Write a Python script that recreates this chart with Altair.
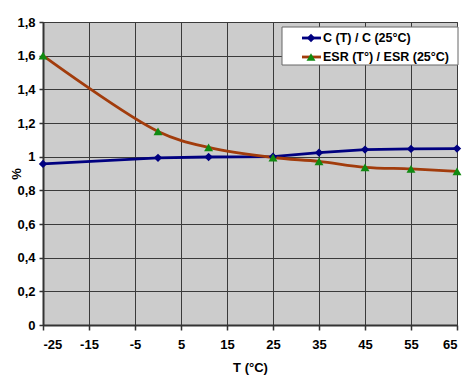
import altair as alt
import pandas as pd

temps = [-25, 0, 11, 25, 35, 45, 55, 65]
c_ratio = [0.957, 0.993, 0.998, 1.0, 1.024, 1.042, 1.046, 1.048]
esr_ratio = [1.6, 1.15, 1.055, 0.995, 0.972, 0.937, 0.927, 0.913]
x_ticks = [-25, -15, -5, 5, 15, 25, 35, 45, 55, 65]
y_ticks = [0, 0.2, 0.4, 0.6, 0.8, 1.0, 1.2, 1.4, 1.6, 1.8]
legend_labels = ["C (T) / C (25°C)", "ESR (T°) / ESR (25°C)"]

FONT = "Liberation Sans, Arial, sans-serif"
NAVY = "#000080"
BROWN = "#a23c0c"
GREEN = "#118a11"

df = pd.DataFrame({"T": temps, "C": c_ratio, "ESR": esr_ratio})

x = alt.X("T:Q", scale=alt.Scale(domain=[-25, 65], nice=False, zero=False),
          axis=alt.Axis(values=x_ticks, title="T (°C)", labelExpr="'' + datum.value",
                        labelPadding=8, tickSize=5, titleY=36, titleBaseline="top"))
y_enc = lambda f: alt.Y(f"{f}:Q", scale=alt.Scale(domain=[0, 1.8], nice=False),
                        axis=alt.Axis(values=y_ticks, title="%",
                                      labelExpr="replace(format(datum.value, '.1~f'), '.', ',')",
                                      tickSize=4, labelPadding=4, titleX=-20))

base = alt.Chart(df)
c_line = base.mark_line(color=NAVY, strokeWidth=2.8).encode(x=x, y=y_enc("C"))
c_pts = base.mark_point(shape="diamond", filled=True, size=70, color=NAVY, opacity=1).encode(x=x, y=y_enc("C"))
e_line = base.mark_line(color=BROWN, strokeWidth=2.8, interpolate="catmull-rom").encode(x=x, y=y_enc("ESR"))
e_pts = base.mark_point(shape="triangle-up", filled=True, size=80, color=GREEN, opacity=1).encode(x=x, y=y_enc("ESR"))

one = alt.Data(values=[{}])
leg_box = alt.Chart(one).mark_rect(fill="white", stroke="#666", strokeWidth=1).encode(
    x=alt.value(239), x2=alt.value(415), y=alt.value(5), y2=alt.value(43))
leg_l1 = alt.Chart(one).mark_rule(color=NAVY, strokeWidth=2.8).encode(
    x=alt.value(259), x2=alt.value(278), y=alt.value(16))
leg_p1 = alt.Chart(one).mark_point(shape="diamond", filled=True, size=70, color=NAVY, opacity=1).encode(
    x=alt.value(268), y=alt.value(16))
leg_t1 = alt.Chart(one).mark_text(align="left", baseline="middle", font=FONT, fontSize=12.5,
                                  fontWeight="bold", color="black").encode(
    x=alt.value(280), y=alt.value(16), text=alt.value(legend_labels[0]))
leg_l2 = alt.Chart(one).mark_rule(color=BROWN, strokeWidth=2.8).encode(
    x=alt.value(259), x2=alt.value(278), y=alt.value(35))
leg_p2 = alt.Chart(one).mark_point(shape="triangle-up", filled=True, size=80, color=GREEN, opacity=1).encode(
    x=alt.value(268), y=alt.value(35))
leg_t2 = alt.Chart(one).mark_text(align="left", baseline="middle", font=FONT, fontSize=12.5,
                                  fontWeight="bold", color="black").encode(
    x=alt.value(280), y=alt.value(35), text=alt.value(legend_labels[1]))

chart = alt.layer(c_line, e_line, c_pts, e_pts, leg_box, leg_l1, leg_l2, leg_p1, leg_p2, leg_t1, leg_t2).properties(
    width=414, height=303,
    autosize=alt.AutoSizeParams(type="none"),
    padding={"left": 35, "top": 14, "right": 9, "bottom": 55},
    background="white",
).configure_view(fill="#cccccc", stroke="#555", strokeWidth=1).configure_axis(
    grid=True, gridColor="#3a3a3a", gridWidth=1, gridOpacity=1,
    domainColor="#333", domainWidth=2, tickColor="#333", tickWidth=1.5,
    labelFont=FONT, labelFontSize=13, labelFontWeight="bold", labelColor="black",
    titleFont=FONT, titleFontSize=13, titleFontWeight="bold", titleColor="black",
)

chart.save("out.html", embed_options={"renderer": "svg", "actions": False})
